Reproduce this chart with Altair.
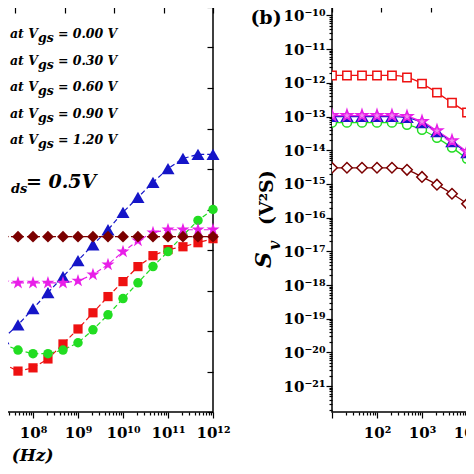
import altair as alt
import pandas as pd

# ---------------- data ----------------
SERIES = ["0.00", "0.30", "0.60", "0.90", "1.20"]
COLORS = ["#EE1111", "#22DD22", "#1515C8", "#E81EE8", "#7B0000"]
FILLS_B = ["white", "white", "#1515C8", "#F08CF0", "white"]
STAR = ("M0,-1L0.225,-0.309L0.951,-0.309L0.363,0.118L0.588,0.809L0,0.382"
        "L-0.588,0.809L-0.363,0.118L-0.951,-0.309L-0.225,-0.309Z")
SHAPES = ["square", "circle", "triangle-up", STAR, "diamond"]
SIZES_A = [85, 90, 170, 190, 140]
SIZES_B = [70, 80, 120, 140, 110]

# panel (a): frequency (Hz) and noise (axis units, one unit per right-hand tick)
FREQ_A = [2.15e7, 4.64e7, 1.0e8, 2.15e8, 4.64e8, 1.0e9, 2.15e9, 4.64e9,
          1.0e10, 2.15e10, 4.64e10, 1.0e11, 2.15e11, 4.64e11, 1.0e12]
A_000 = [1.19, 1.01, 1.09, 1.31, 1.68, 2.05, 2.45, 2.85, 3.22, 3.59, 3.86, 4.01, 4.08, 4.18, 4.28]
A_030 = [1.68, 1.53, 1.44, 1.44, 1.53, 1.71, 2.03, 2.40, 2.80, 3.19, 3.59, 3.96, 4.36, 4.73, 5.00]
A_060 = [1.81, 2.15, 2.55, 2.95, 3.34, 3.74, 4.13, 4.50, 4.93, 5.30, 5.67, 6.01, 6.26, 6.36, 6.36]
A_090 = [3.19, 3.19, 3.19, 3.19, 3.19, 3.24, 3.39, 3.64, 3.96, 4.23, 4.43, 4.50, 4.50, 4.50, 4.50]
A_120 = [4.33, 4.33, 4.33, 4.33, 4.33, 4.33, 4.33, 4.33, 4.33, 4.33, 4.33, 4.33, 4.33, 4.33, 4.33]
NOISE_A = [A_000, A_030, A_060, A_090, A_120]

# panel (b): frequency (Hz) and S_v (V^2 S)
FREQ_B = [10, 21.5, 46.4, 100, 215, 464, 1000, 2150, 4640, 10000, 21500]
B_000 = [1.66e-12, 1.66e-12, 1.66e-12, 1.66e-12, 1.66e-12, 1.45e-12, 9.55e-13, 5.13e-13, 2.57e-13, 1.32e-13, 6.17e-14]
B_030 = [6.61e-14, 6.61e-14, 6.61e-14, 6.61e-14, 6.61e-14, 5.75e-14, 4.07e-14, 2.34e-14, 1.20e-14, 5.62e-15, 2.45e-15]
B_060 = [1.00e-13, 1.00e-13, 1.00e-13, 1.00e-13, 1.00e-13, 9.33e-14, 6.61e-14, 3.55e-14, 1.78e-14, 8.51e-15, 4.27e-15]
B_090 = [1.07e-13, 1.07e-13, 1.07e-13, 1.07e-13, 1.07e-13, 1.00e-13, 7.08e-14, 3.80e-14, 1.91e-14, 9.12e-15, 4.57e-15]
B_120 = [3.02e-15, 3.02e-15, 3.02e-15, 3.02e-15, 3.02e-15, 2.63e-15, 1.62e-15, 9.55e-16, 5.13e-16, 2.57e-16, 1.05e-16]
SV_B = [B_000, B_030, B_060, B_090, B_120]

DOM_A = [1e4, 1e12]
TOP_A = [5.33e4, 1e12]
DOM_B = [10, 1e11]
TOP_B = [10, 1.233e10]
DOM_BY = [10 ** -21.766, 10 ** -9.748]

SERIF = "DejaVu Serif"
W_A, W_B, H = 360, 450, 405

# ---------------- helpers ----------------
SUP = {"0": "⁰", "1": "¹", "2": "²", "3": "³", "4": "⁴", "5": "⁵",
       "6": "⁶", "7": "⁷", "8": "⁸", "9": "⁹", "-": "⁻"}
EXP = "round(log(datum.value)/LN10)"
MAJOR = "abs(log(datum.value)/LN10 - round(log(datum.value)/LN10)) < 0.01"


def sup_expr(inner):
    s = "('' + " + inner + ")"
    for k, v in SUP.items():
        s = "replace(" + s + ", regexp('" + k + "', 'g'), '" + v + "')"
    return s


def label_expr(lo, hi):
    return ("(" + MAJOR + ") && " + EXP + " >= " + str(lo) + " && " + EXP + " <= " + str(hi)
            + " ? '10' + " + sup_expr(EXP) + " : ''")


def log_ticks(lo, hi):
    vals = []
    for e in range(-25, 15):
        for m in range(1, 10):
            v = m * 10.0 ** e
            if lo * 0.9999 <= v <= hi * 1.0001:
                vals.append(v)
    return vals


def decades(lo, hi):
    return [10.0 ** e for e in range(-25, 15) if lo * 0.9999 <= 10.0 ** e <= hi * 1.0001]


def size_calc(sizes):
    return ("[" + ",".join(str(v) for v in sizes) + "][indexof(["
            + ",".join("'" + s + "'" for s in SERIES) + "], datum.s)]")


TICK = {"condition": {"test": MAJOR, "value": 6}, "value": 3}

color = alt.Color("s:N", scale=alt.Scale(domain=SERIES, range=COLORS), legend=None)
shape = alt.Shape("s:N", scale=alt.Scale(domain=SERIES, range=SHAPES), legend=None)
size = alt.Size("sz:Q", scale=None, legend=None)
one = pd.DataFrame({"k": [0]})


def gxa(r):
    return r + 148


def gxb(r):
    return r - 331


def gy(r):
    return r - 6


def txt(text, x, y, size_, italic=True, align="left", angle=0, baseline="alphabetic"):
    kw = dict(align=align, baseline=baseline, font=SERIF, fontSize=size_,
              fontWeight="bold", color="black")
    if italic:
        kw["fontStyle"] = "italic"
    if angle:
        kw["angle"] = angle
    return alt.Chart(one).mark_text(**kw).encode(
        x=alt.value(x), y=alt.value(y), text=alt.value(text))


# ---------------- panel (a) ----------------
rows = []
for s, vals in zip(SERIES, NOISE_A):
    for f, v in zip(FREQ_A, vals):
        rows.append({"f": f, "v": v, "s": s})
df_a = pd.DataFrame(rows)

xa = alt.X("f:Q", scale=alt.Scale(type="log", domain=DOM_A, nice=False),
           axis=alt.Axis(values=log_ticks(*DOM_A), labelExpr=label_expr(8, 12),
                         tickSize=TICK, labelOverlap=False, labelFlush=False,
                         domain=False, grid=False, labelPadding=7,
                         title="Frequency (Hz)", titleX=200, titleY=52,
                         titleAlign="right", titleBaseline="bottom",
                         titleFontStyle="italic", titleFontSize=17))
ya = alt.Y("v:Q", scale=alt.Scale(domain=[0, 10], nice=False, zero=False),
           axis=alt.Axis(orient="right", values=list(range(11)), labels=False,
                         domain=False, grid=False, tickSize=6, offset=-6, title=None))

lines_a = alt.Chart(df_a).mark_line(strokeDash=[5, 3], strokeWidth=1.2).encode(x=xa, y=ya, color=color)
pts_a = alt.Chart(df_a).transform_calculate(sz=size_calc(SIZES_A)).mark_point(
    filled=True, opacity=1).encode(x=xa, y=ya, color=color, shape=shape, size=size)
inner_a = alt.layer(lines_a, pts_a)

top_a = alt.Chart(pd.DataFrame({"ft": [1e8]})).mark_point(size=0, opacity=0).encode(
    x=alt.X("ft:Q", scale=alt.Scale(type="log", domain=TOP_A, nice=False),
            axis=alt.Axis(orient="top", values=decades(*TOP_A), labels=False,
                          domain=False, grid=False, tickSize=6, offset=-6, title=None)),
    y=alt.value(0))

leg_df = pd.DataFrame({"s": SERIES, "lab": ["= " + s + " V" for s in SERIES]})
ly = alt.Y("s:N", scale=alt.Scale(type="point", domain=SERIES, range=[gy(37), gy(143)], padding=0), axis=None)
TXT = dict(font=SERIF, fontSize=12.5, fontStyle="italic", fontWeight="bold", color="black",
           align="left", baseline="alphabetic")
leg_line = alt.Chart(leg_df).mark_rule(strokeDash=[4, 2], strokeWidth=1.2, yOffset=-4).encode(
    x=alt.value(gxa(-28)), x2=alt.value(gxa(5)), y=ly, color=color)
leg_sym = alt.Chart(leg_df).transform_calculate(sz=size_calc(SIZES_A)).mark_point(
    filled=True, opacity=1, yOffset=-4).encode(
    x=alt.value(gxa(-12)), y=ly, color=color, shape=shape, size=size)
leg_t1 = alt.Chart(leg_df).mark_text(**TXT).encode(x=alt.value(gxa(9)), y=ly, text=alt.value("at V"))
leg_t2 = alt.Chart(leg_df).mark_text(dy=4, **TXT).encode(x=alt.value(gxa(37)), y=ly, text=alt.value("gs"))
leg_t3 = alt.Chart(leg_df).mark_text(**TXT).encode(x=alt.value(gxa(57)), y=ly, text="lab:N")
legend_a = alt.layer(leg_line, leg_sym, leg_t1, leg_t2, leg_t3)

vds1 = txt("V", gxa(2), gy(187), 19, align="right")
vds2 = txt("ds", gxa(10), gy(192), 13)
vds3 = txt("= 0.5V", gxa(25), gy(187), 19)

panel_a = alt.layer(inner_a, top_a, legend_a, vds1, vds2, vds3).resolve_scale(
    x="independent", y="independent").properties(width=W_A, height=H)

# ---------------- panel (b) ----------------
rows = []
for s, vals in zip(SERIES, SV_B):
    for f, v in zip(FREQ_B, vals):
        rows.append({"f": f, "sv": v, "s": s})
df_b = pd.DataFrame(rows)

xb = alt.X("f:Q", scale=alt.Scale(type="log", domain=DOM_B, nice=False),
           axis=alt.Axis(values=log_ticks(*DOM_B), labelExpr=label_expr(2, 10),
                         tickSize=TICK, labelOverlap=False, labelFlush=False,
                         domain=False, grid=False, labelPadding=7,
                         title="Frequency (Hz)", titleY=52, titleBaseline="bottom",
                         titleFontStyle="italic", titleFontSize=17))
yb = alt.Y("sv:Q", scale=alt.Scale(type="log", domain=DOM_BY, nice=False),
           axis=alt.Axis(values=log_ticks(*DOM_BY), labelExpr=label_expr(-21, -10),
                         tickSize=TICK, labelOverlap=False, labelFlush=False,
                         domain=False, grid=False, labelPadding=1, title=None))

lines_b = alt.Chart(df_b).mark_line(strokeWidth=1.3, interpolate="monotone", clip=True).encode(
    x=xb, y=yb, color=color)
pts_b = alt.Chart(df_b).transform_calculate(sz=size_calc(SIZES_B)).mark_point(
    filled=True, opacity=1, strokeWidth=1.5, clip=True).encode(
    x=xb, y=yb,
    stroke=alt.Stroke("s:N", scale=alt.Scale(domain=SERIES, range=COLORS), legend=None),
    fill=alt.Fill("s:N", scale=alt.Scale(domain=SERIES, range=FILLS_B), legend=None),
    shape=shape, size=size)
inner_b = alt.layer(lines_b, pts_b)

top_b = alt.Chart(pd.DataFrame({"ft": [1e4]})).mark_point(size=0, opacity=0).encode(
    x=alt.X("ft:Q", scale=alt.Scale(type="log", domain=TOP_B, nice=False),
            axis=alt.Axis(orient="top", values=decades(*TOP_B), labels=False,
                          domain=False, grid=False, tickSize=5, offset=-5, title=None)),
    y=alt.value(0))

lab_b = txt("(b)", gxb(265), gy(17), 19, italic=False, align="center", baseline="middle")
ttl1 = txt("S", gxb(270), gy(267), 22, angle=270)
ttl2 = txt("v", gxb(279), gy(249), 16, angle=270)
ttl3 = txt("(V²S)", gxb(272), gy(224), 19, italic=False, angle=270)

panel_b = alt.layer(inner_b, top_b, lab_b, ttl1, ttl2, ttl3).resolve_scale(
    x="independent", y="independent").properties(width=W_B, height=H)

chart = alt.hconcat(panel_a, panel_b, spacing=119, bounds="flush").properties(
    padding={"left": -157, "right": -318, "top": -3, "bottom": 2}
).configure_view(stroke="black", strokeWidth=1.5).configure_axis(
    tickColor="black", tickWidth=1.2, labelColor="black", labelFont=SERIF,
    labelFontSize=15, labelFontWeight="bold", titleFont=SERIF, titleFontWeight="bold",
    titleColor="black")

chart.save("out.html", embed_options={"renderer": "svg", "actions": False})
